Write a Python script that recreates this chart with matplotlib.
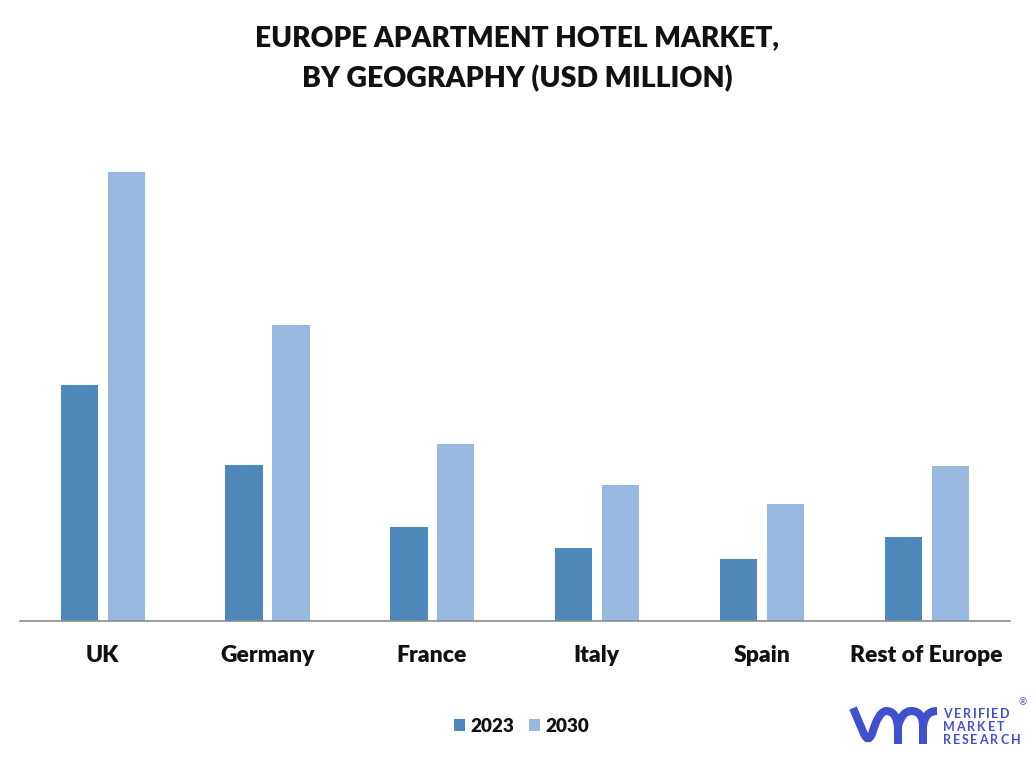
import numpy as np
import matplotlib
matplotlib.use("Agg")
import matplotlib.pyplot as plt
from matplotlib.path import Path
from matplotlib.patches import PathPatch
from matplotlib.textpath import TextPath
from matplotlib.font_manager import FontProperties

categories = ['UK', 'Germany', 'France', 'Italy', 'Spain', 'Rest of Europe']
values_2023 = [236, 156, 94, 73, 62, 84]
values_2030 = [449, 296, 177, 136, 117, 155]
years = ['2023', '2030']

W, H = 1035, 758
color_2023 = '#4F89BC'
color_2030 = '#99B9E0'
logo_color = '#3F51CC'

plt.rcParams['font.family'] = ['Lato', 'DejaVu Sans']

fig = plt.figure(figsize=(W / 100, H / 100), dpi=100)

# axes placed so the baseline lands at y=621 and runs 20..1010
ax = fig.add_axes([20 / W, (H - 621) / H, 990 / W, 500 / H])
x = np.arange(len(categories))
bar_w = 0.226
off = 0.1424
ax.bar(x - off + 0.002, values_2023, bar_w, color=color_2023, label=years[0])
ax.bar(x + off + 0.002, values_2030, bar_w, color=color_2030, label=years[1])
ax.set_xlim(-0.5, 5.507)
ax.set_ylim(0, 500)
ax.set_yticks([])
ax.set_xticks(x)
ax.set_xticklabels(categories, fontsize=16.5, fontweight='heavy', color='#111111')
ax.tick_params(axis='x', length=0, pad=17)
for s in ['top', 'left', 'right']:
    ax.spines[s].set_visible(False)
ax.spines['bottom'].set_color('#8C8C8C')
ax.spines['bottom'].set_linewidth(1.2)
ax.patch.set_alpha(0)

fig.text(517 / W, 1 - 38.5 / H, 'EUROPE APARTMENT HOTEL MARKET,', ha='center', va='center',
         fontsize=20.2, fontweight='heavy', color='#111111')
fig.text(517.5 / W, 1 - 78.5 / H, 'BY GEOGRAPHY (USD MILLION)', ha='center', va='center',
         fontsize=20.4, fontweight='heavy', color='#111111')

leg = fig.legend(loc='center', bbox_to_anchor=(521.5 / W, 1 - 726 / H), ncol=2, frameon=False,
                 prop={'size': 13.6, 'weight': 'heavy'}, handlelength=0.58, handleheight=0.58,
                 handletextpad=0.3, columnspacing=0.75, borderpad=0)
for t in leg.get_texts():
    t.set_color('#111111')

# logo, drawn in pixel coordinates on an overlay
lg = fig.add_axes([0, 0, 1, 1])
lg.set_xlim(0, W)
lg.set_ylim(H, 0)
lg.axis('off')
lg.patch.set_alpha(0)
verts = [(853, 708), (864, 734), (868, 743), (872, 734), (878, 712), (886, 711), (897, 711), (898, 728),
         (898, 744),
         (898, 726), (902, 711), (911, 711), (923, 711), (923, 726), (923, 744),
         (923, 726), (925, 711), (937, 711)]
codes = [Path.MOVETO, Path.LINETO, Path.CURVE3, Path.CURVE3, Path.CURVE3, Path.CURVE3, Path.CURVE3, Path.CURVE3,
         Path.LINETO,
         Path.MOVETO, Path.CURVE3, Path.CURVE3, Path.CURVE3, Path.CURVE3, Path.LINETO,
         Path.MOVETO, Path.CURVE3, Path.CURVE3]
lg.add_patch(PathPatch(Path(verts, codes), fill=False, edgecolor=logo_color, lw=5.8,
                       capstyle='butt', joinstyle='round'))

# letter spaced logo words
logo_font = FontProperties(family='Lato', weight='bold', size=9)


def spaced_text(x0, y0, word, gap):
    for ch in word:
        lg.text(x0, y0, ch, fontproperties=logo_font, color=logo_color, va='center_baseline', ha='left')
        tp = TextPath((0, 0), ch, prop=logo_font)
        x0 += (tp.get_extents().x1 * 100 / 72) + gap


for yy, word in zip([713, 726, 739], ['VERIFIED', 'MARKET', 'RESEARCH']):
    spaced_text(943, yy, word, 2.1)
lg.text(1023, 703, '®', fontsize=7, color=logo_color, va='center', ha='center')

fig.savefig('out.png', dpi=100)
